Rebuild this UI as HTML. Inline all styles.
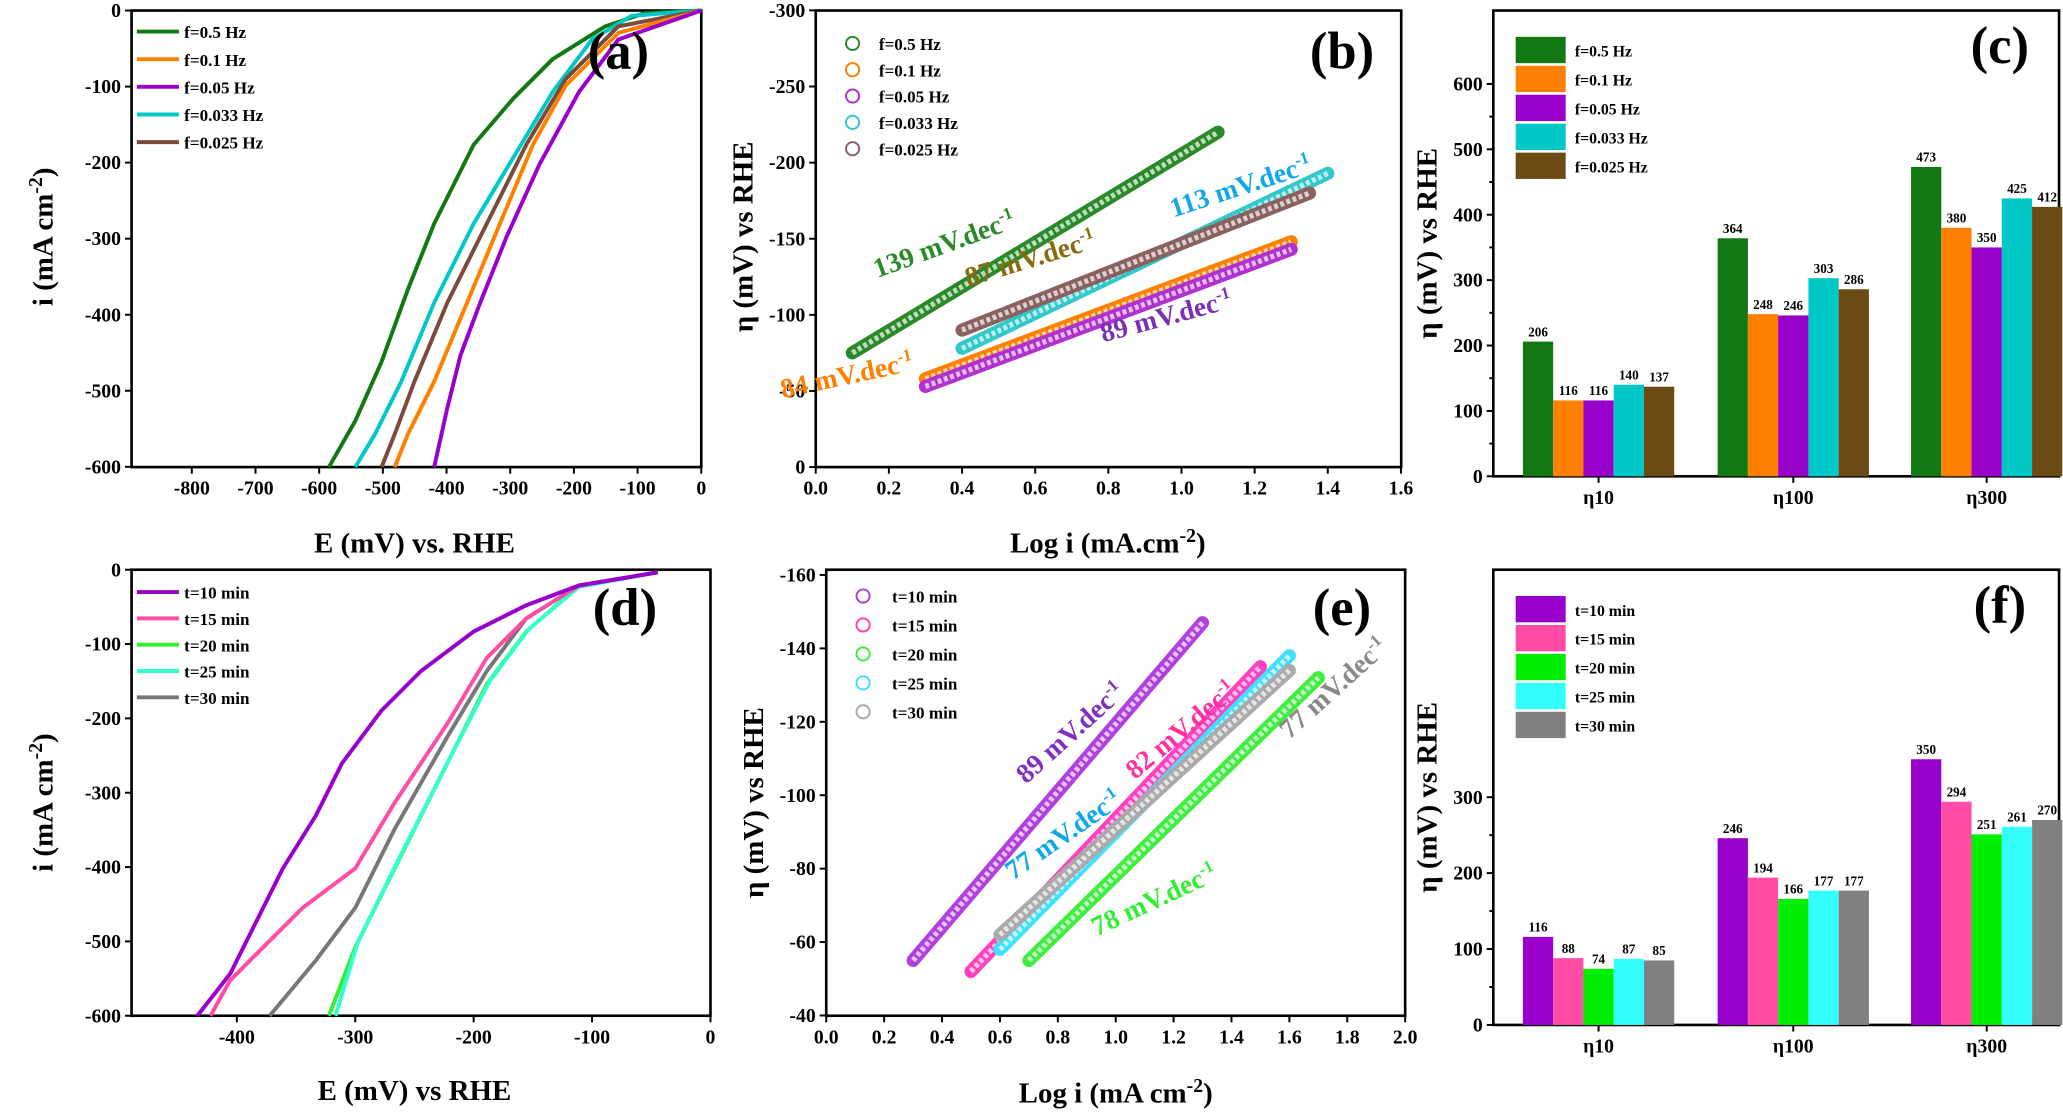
<!DOCTYPE html>
<html><head><meta charset="utf-8"><style>
html,body{margin:0;padding:0;background:#fff;}
svg{display:block;}
text{font-family:"Liberation Serif",serif;font-weight:bold;}
</style></head><body>
<svg id="s" width="2063" height="1116" viewBox="0 0 1568 848.2" preserveAspectRatio="none" xmlns="http://www.w3.org/2000/svg"></svg>
<script>
const S=document.getElementById('s');let h='';
function T(x,y,t,sz,opt={}){h+=`<text x="${x}" y="${y}" font-size="${sz}" fill="${opt.fill||'#000'}" text-anchor="${opt.a||'middle'}" ${opt.rot!==undefined?`transform="rotate(${opt.rot} ${x} ${y})"`:''}>${t}</text>`;}
function frame(l,r,t,b){h+=`<rect x="${l}" y="${t}" width="${r-l}" height="${b-t}" fill="none" stroke="#000" stroke-width="2"/>`;}
function xt(x,b,lab){h+=`<line x1="${x}" y1="${b}" x2="${x}" y2="${b+5}" stroke="#000" stroke-width="1.5"/>`;T(x,b+21,lab,15);}
function yt(l,y,lab){h+=`<line x1="${l-5}" y1="${y}" x2="${l}" y2="${y}" stroke="#000" stroke-width="1.5"/>`;T(l-8,y+5,lab,15,{a:'end'});}
function pl(pts,c,w){h+=`<polyline points="${pts.map(p=>p.join(',')).join(' ')}" fill="none" stroke="${c}" stroke-width="${w}" stroke-linejoin="round"/>`;}
function band(x1,y1,x2,y2,c){h+=`<line x1="${x1}" y1="${y1}" x2="${x2}" y2="${y2}" stroke="${c}" stroke-width="10" stroke-linecap="round"/><line x1="${x1}" y1="${y1}" x2="${x2}" y2="${y2}" stroke="#fff" stroke-width="4" stroke-dasharray="3 2" opacity="0.7"/>`;}
// (a)
{let l=100,r=533,t=8,b=355;frame(l,r,t,b);
for(let v=-800;v<=0;v+=100)xt(533+v*0.484,b,v);
for(let v=0;v>=-600;v-=100)yt(l,t-v*0.578,v);
pl([[533,8],[490,10],[460,20],[420,45],[390,75],[360,110],[330,170],[310,220],[290,275],[270,320],[250,355]],'#127812',3);
pl([[533,8],[480,12],[450,30],[420,70],[390,120],[360,170],[330,230],[305,290],[285,330],[270,355]],'#00c8c8',3);
pl([[533,8],[470,20],[430,60],[400,110],[370,170],[340,230],[315,290],[300,330],[290,355]],'#7b4a3a',3);
pl([[533,8],[470,25],[430,65],[405,110],[380,170],[355,230],[330,290],[310,330],[300,355]],'#ff8000',3);
pl([[533,8],[470,30],[440,70],[410,125],[385,180],[365,230],[350,270],[340,310],[330,355]],'#9900cc',3);
const L=[['f=0.5 Hz','#127812'],['f=0.1 Hz','#ff8000'],['f=0.05 Hz','#9900cc'],['f=0.033 Hz','#00c8c8'],['f=0.025 Hz','#7b4a3a']];
L.forEach((e,i)=>{let y=24+i*21;h+=`<line x1="104" y1="${y}" x2="136" y2="${y}" stroke="${e[1]}" stroke-width="3"/>`;T(140,y+5,e[0],13,{a:'start'});});
T(470,52,'(a)',40);T(315,420,'E (mV) vs. RHE',22);T(40,180,'i (mA cm<tspan dy="-8" font-size="15">-2</tspan><tspan dy="8">)</tspan>',22,{rot:-90});}
// (b)
{let l=620,r=1065,t=8,b=355;frame(l,r,t,b);
const X=v=>l+v*278,Y=v=>b+v*1.157;
for(let v=0;v<=1.6001;v+=0.2)xt(X(v),b,v.toFixed(1));
for(let v=0;v>=-300;v-=50)yt(l,Y(v),v);
band(X(.1),Y(-75),X(1.1),Y(-220),'#2a8a2a');band(X(.3),Y(-58),X(1.3),Y(-148),'#ff8000');band(X(.3),Y(-53),X(1.3),Y(-143),'#b030d0');
band(X(.4),Y(-78),X(1.4),Y(-193),'#30c8c8');band(X(.4),Y(-90),X(1.35),Y(-180),'#8a6060');
const L=[['f=0.5 Hz','#2a8a2a'],['f=0.1 Hz','#ff8000'],['f=0.05 Hz','#b030d0'],['f=0.033 Hz','#30c8c8'],['f=0.025 Hz','#8a6060']];
L.forEach((e,i)=>{let y=33+i*20;h+=`<circle cx="648" cy="${y}" r="5" fill="none" stroke="${e[1]}" stroke-width="1.5"/>`;T(668,y+5,e[0],13,{a:'start'});});
T(1020,52,'(b)',40);
const lab=(x,y,t,c,rot)=>T(x,y,t+' mV.dec<tspan dy="-8" font-size="13">-1</tspan>',21,{fill:c,rot:rot});
lab(720,192,'139','#2a8a2a',-20);lab(945,148,'113','#10a8e8',-18);lab(785,203,'87','#8a6a10',-17);lab(888,247,'89','#7a30b0',-15);lab(645,292,'84','#ff8000',-12);
T(842,420,'Log i (mA.cm<tspan dy="-8" font-size="15">-2</tspan><tspan dy="8">)</tspan>',22);T(572,180,'η (mV) vs  RHE',22,{rot:-90});}
// bars
function bars(l,r,t,b,scale,ymax,step,data,cols,names,tag,gx){frame(l,r,t,b);
for(let v=0;v<=ymax;v+=step)yt(l,b-v*scale,v);
for(let v=step/2;v<=ymax;v+=step)h+=`<line x1="${l-3}" y1="${b-v*scale}" x2="${l}" y2="${b-v*scale}" stroke="#000" stroke-width="1.5"/>`;
['η10','η100','η300'].forEach((c,g)=>{xt(gx[g],b,c);
data[g].forEach((v,i)=>{let x=gx[g]-57.5+i*23;h+=`<rect x="${x}" y="${b-v*scale}" width="23" height="${v*scale}" fill="${cols[i]}"/>`;T(x+11.5,b-v*scale-4,v,10);});});
let lx=l+17,ly=t+20;names.forEach((n,i)=>{h+=`<rect x="${lx}" y="${ly+i*22}" width="38" height="20" fill="${cols[i]}"/>`;T(lx+45,ly+i*22+15,n,12,{a:'start'});});
T(r-45,t+40,tag,40);}
bars(1135,1565,8,362,0.497,600,100,[[206,116,116,140,137],[364,248,246,303,286],[473,380,350,425,412]],['#127812','#ff8000','#9900cc','#00c8c8','#6b4a14'],['f=0.5 Hz','f=0.1 Hz','f=0.05 Hz','f=0.033 Hz','f=0.025 Hz'],'(c)',[1215,1363,1510]);
T(1092,185,'η (mV) vs  RHE',22,{rot:-90});
bars(1135,1565,433,779,0.577,300,100,[[116,88,74,87,85],[246,194,166,177,177],[350,294,251,261,270]],['#9900cc','#ff4da6','#00ee00','#33ffff','#808080'],['t=10 min','t=15 min','t=20 min','t=25 min','t=30 min'],'(f)',[1215,1363,1510]);
T(1092,606,'η (mV) vs  RHE',22,{rot:-90});
// (d)
{let l=100,r=540,t=433,b=772;frame(l,r,t,b);
for(let v=-400;v<=0;v+=100)xt(540+v*0.9,b,v);
for(let v=0;v>=-600;v-=100)yt(l,t-v*0.565,v);
pl([[500,435],[440,445],[400,480],[370,520],[340,580],[300,660],[270,720],[250,772]],'#33ee33',3);
pl([[500,435],[440,446],[402,478],[372,518],[342,576],[302,655],[272,716],[255,772]],'#33ffcc',3);
pl([[500,435],[440,445],[400,470],[370,510],[340,560],[300,630],[270,690],[240,730],[205,772]],'#777',3);
pl([[500,435],[440,445],[400,470],[370,500],[340,550],[300,610],[270,660],[230,690],[200,720],[175,745],[160,772]],'#ff4da6',3);
pl([[500,435],[440,445],[400,460],[360,480],[320,510],[290,540],[260,580],[240,620],[215,660],[195,700],[175,740],[150,772]],'#9900cc',3);
const L=[['t=10 min','#9900cc'],['t=15 min','#ff4da6'],['t=20 min','#33ee33'],['t=25 min','#33ffcc'],['t=30 min','#777']];
L.forEach((e,i)=>{let y=450+i*20;h+=`<line x1="104" y1="${y}" x2="136" y2="${y}" stroke="${e[1]}" stroke-width="3"/>`;T(140,y+5,e[0],13,{a:'start'});});
T(475,475,'(d)',40);T(315,836,'E (mV) vs RHE',22);T(40,610,'i (mA cm<tspan dy="-8" font-size="15">-2</tspan><tspan dy="8">)</tspan>',22,{rot:-90});}
// (e)
{let l=628,r=1068,t=433,b=772;frame(l,r,t,b);
const X=v=>l+v*220,Y=v=>437+(-160-v)*-2.79;
for(let v=0;v<=2.0001;v+=0.2)xt(X(v),b,v.toFixed(1));
for(let v=-160;v<=-40;v+=20)yt(l,Y(v),v);
band(X(.3),Y(-55),X(1.3),Y(-147),'#b040e0');band(X(.5),Y(-52),X(1.5),Y(-135),'#ff40c0');band(X(.7),Y(-55),X(1.7),Y(-132),'#40ee40');
band(X(.6),Y(-58),X(1.6),Y(-138),'#40e0ff');band(X(.6),Y(-62),X(1.6),Y(-134),'#aaa');
const L=[['t=10 min','#b040e0'],['t=15 min','#ff40c0'],['t=20 min','#40ee40'],['t=25 min','#40e0ff'],['t=30 min','#aaa']];
L.forEach((e,i)=>{let y=453+i*22;h+=`<circle cx="656" cy="${y}" r="5" fill="none" stroke="${e[1]}" stroke-width="1.5"/>`;T(678,y+5,e[0],13,{a:'start'});});
T(1020,475,'(e)',40);
const lab=(x,y,t,c,rot)=>T(x,y,t+' mV.dec<tspan dy="-8" font-size="13">-1</tspan>',21,{fill:c,rot:rot});
lab(818,562,'89','#8030c0',-42);lab(902,560,'82','#ff30a0',-40);lab(812,640,'77','#10a8e8',-35);lab(880,690,'78','#33ee33',-25);lab(1018,528,'77','#888',-42);
T(848,838,'Log i (mA cm<tspan dy="-8" font-size="15">-2</tspan><tspan dy="8">)</tspan>',22);T(580,610,'η (mV) vs  RHE',22,{rot:-90});}
S.innerHTML=h;
</script>
</body></html>
